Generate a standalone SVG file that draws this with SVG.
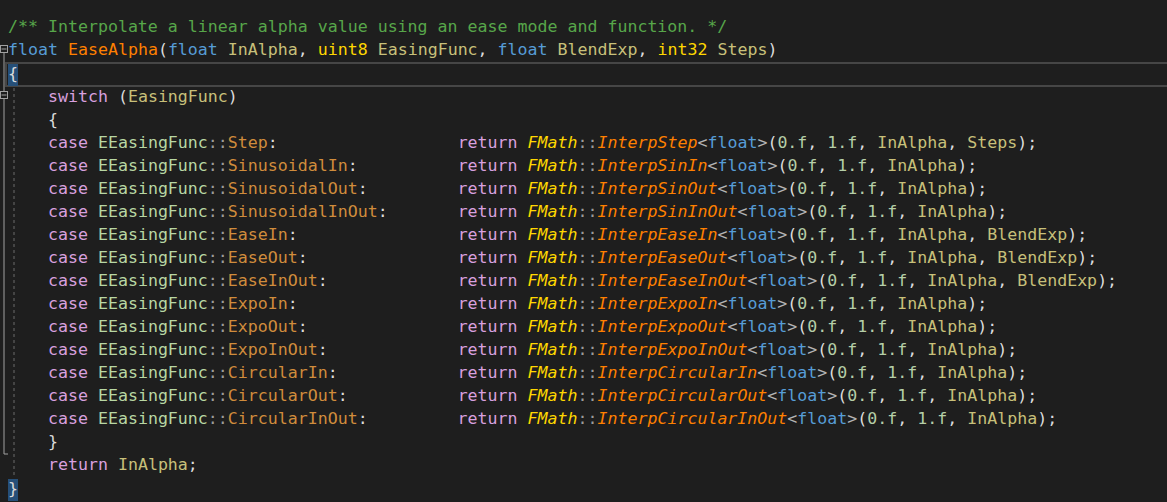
<svg xmlns="http://www.w3.org/2000/svg" width="1167" height="502" viewBox="0 0 1167 502">
<style>
text{font-family:"DejaVu Sans Mono","Liberation Mono",monospace;font-size:16.6px;white-space:pre;fill:#dcdcdc}
.c{fill:#57a64a}.k{fill:#569cd6}.f{fill:#ff8000}.p{fill:#c8c07a}.y{fill:#ffd700}.kw{fill:#d8a0df}.e{fill:#b8d7a3}.m{fill:#d08c3c}.fm{fill:#ffd700;font-style:italic}.fi{fill:#ff8000;font-style:italic}.g{fill:#b4b4b4}.n{fill:#b5cea8}.pu{fill:#9b9b9b}
</style>
<rect width="1167" height="502" fill="#1e1e1e"/>
<g id="gutter" fill="none" stroke="#a0a0a0" stroke-width="1">
<rect x="6" y="63" width="1170" height="23" stroke="#464646" stroke-width="2"/>
<rect x="0.5" y="45.5" width="7" height="7"/><line x1="1.5" y1="49" x2="6.5" y2="49"/>
<rect x="0.5" y="91.5" width="7" height="7"/><line x1="1.5" y1="95" x2="6.5" y2="95"/>
<line x1="4" y1="53" x2="4" y2="91"/><line x1="4" y1="99" x2="4" y2="454"/><line x1="4" y1="454" x2="8" y2="454"/>
<line x1="14" y1="88" x2="14" y2="476" stroke="#6a6a6a" stroke-dasharray="3,3"/>
<rect x="8" y="64" width="10" height="22" fill="#264f78" stroke="none"/>
<rect x="8" y="479" width="10" height="22" fill="#264f78" stroke="none"/>
</g>
<g id="code">
<text x="8" y="32" class="c">/** Interpolate a linear alpha value using an ease mode and function. */</text>
<text x="8" y="55"><tspan class="k">float</tspan> <tspan class="f">EaseAlpha</tspan>(<tspan class="k">float</tspan> <tspan class="p">InAlpha</tspan>, <tspan class="y">uint8</tspan> <tspan class="p">EasingFunc</tspan>, <tspan class="k">float</tspan> <tspan class="p">BlendExp</tspan>, <tspan class="y">int32</tspan> <tspan class="p">Steps</tspan>)</text>
<text x="8" y="79">{</text>
<text x="8" y="102">    <tspan class="kw">switch</tspan> (<tspan class="p">EasingFunc</tspan>)</text>
<text x="8" y="125">    {</text>
<text x="8" y="148">    <tspan class="kw">case</tspan> <tspan class="e">EEasingFunc</tspan><tspan class="pu">::</tspan><tspan class="m">Step</tspan>:                  <tspan class="kw">return</tspan> <tspan class="fm">FMath</tspan><tspan class="pu">::</tspan><tspan class="fi">InterpStep</tspan><tspan class="g">&lt;</tspan><tspan class="k">float</tspan><tspan class="g">&gt;</tspan>(<tspan class="n">0.f</tspan>, <tspan class="n">1.f</tspan>, <tspan class="p">InAlpha</tspan>, <tspan class="p">Steps</tspan>);</text>
<text x="8" y="171">    <tspan class="kw">case</tspan> <tspan class="e">EEasingFunc</tspan><tspan class="pu">::</tspan><tspan class="m">SinusoidalIn</tspan>:          <tspan class="kw">return</tspan> <tspan class="fm">FMath</tspan><tspan class="pu">::</tspan><tspan class="fi">InterpSinIn</tspan><tspan class="g">&lt;</tspan><tspan class="k">float</tspan><tspan class="g">&gt;</tspan>(<tspan class="n">0.f</tspan>, <tspan class="n">1.f</tspan>, <tspan class="p">InAlpha</tspan>);</text>
<text x="8" y="194">    <tspan class="kw">case</tspan> <tspan class="e">EEasingFunc</tspan><tspan class="pu">::</tspan><tspan class="m">SinusoidalOut</tspan>:         <tspan class="kw">return</tspan> <tspan class="fm">FMath</tspan><tspan class="pu">::</tspan><tspan class="fi">InterpSinOut</tspan><tspan class="g">&lt;</tspan><tspan class="k">float</tspan><tspan class="g">&gt;</tspan>(<tspan class="n">0.f</tspan>, <tspan class="n">1.f</tspan>, <tspan class="p">InAlpha</tspan>);</text>
<text x="8" y="217">    <tspan class="kw">case</tspan> <tspan class="e">EEasingFunc</tspan><tspan class="pu">::</tspan><tspan class="m">SinusoidalInOut</tspan>:       <tspan class="kw">return</tspan> <tspan class="fm">FMath</tspan><tspan class="pu">::</tspan><tspan class="fi">InterpSinInOut</tspan><tspan class="g">&lt;</tspan><tspan class="k">float</tspan><tspan class="g">&gt;</tspan>(<tspan class="n">0.f</tspan>, <tspan class="n">1.f</tspan>, <tspan class="p">InAlpha</tspan>);</text>
<text x="8" y="240">    <tspan class="kw">case</tspan> <tspan class="e">EEasingFunc</tspan><tspan class="pu">::</tspan><tspan class="m">EaseIn</tspan>:                <tspan class="kw">return</tspan> <tspan class="fm">FMath</tspan><tspan class="pu">::</tspan><tspan class="fi">InterpEaseIn</tspan><tspan class="g">&lt;</tspan><tspan class="k">float</tspan><tspan class="g">&gt;</tspan>(<tspan class="n">0.f</tspan>, <tspan class="n">1.f</tspan>, <tspan class="p">InAlpha</tspan>, <tspan class="p">BlendExp</tspan>);</text>
<text x="8" y="263">    <tspan class="kw">case</tspan> <tspan class="e">EEasingFunc</tspan><tspan class="pu">::</tspan><tspan class="m">EaseOut</tspan>:               <tspan class="kw">return</tspan> <tspan class="fm">FMath</tspan><tspan class="pu">::</tspan><tspan class="fi">InterpEaseOut</tspan><tspan class="g">&lt;</tspan><tspan class="k">float</tspan><tspan class="g">&gt;</tspan>(<tspan class="n">0.f</tspan>, <tspan class="n">1.f</tspan>, <tspan class="p">InAlpha</tspan>, <tspan class="p">BlendExp</tspan>);</text>
<text x="8" y="286">    <tspan class="kw">case</tspan> <tspan class="e">EEasingFunc</tspan><tspan class="pu">::</tspan><tspan class="m">EaseInOut</tspan>:             <tspan class="kw">return</tspan> <tspan class="fm">FMath</tspan><tspan class="pu">::</tspan><tspan class="fi">InterpEaseInOut</tspan><tspan class="g">&lt;</tspan><tspan class="k">float</tspan><tspan class="g">&gt;</tspan>(<tspan class="n">0.f</tspan>, <tspan class="n">1.f</tspan>, <tspan class="p">InAlpha</tspan>, <tspan class="p">BlendExp</tspan>);</text>
<text x="8" y="309">    <tspan class="kw">case</tspan> <tspan class="e">EEasingFunc</tspan><tspan class="pu">::</tspan><tspan class="m">ExpoIn</tspan>:                <tspan class="kw">return</tspan> <tspan class="fm">FMath</tspan><tspan class="pu">::</tspan><tspan class="fi">InterpExpoIn</tspan><tspan class="g">&lt;</tspan><tspan class="k">float</tspan><tspan class="g">&gt;</tspan>(<tspan class="n">0.f</tspan>, <tspan class="n">1.f</tspan>, <tspan class="p">InAlpha</tspan>);</text>
<text x="8" y="332">    <tspan class="kw">case</tspan> <tspan class="e">EEasingFunc</tspan><tspan class="pu">::</tspan><tspan class="m">ExpoOut</tspan>:               <tspan class="kw">return</tspan> <tspan class="fm">FMath</tspan><tspan class="pu">::</tspan><tspan class="fi">InterpExpoOut</tspan><tspan class="g">&lt;</tspan><tspan class="k">float</tspan><tspan class="g">&gt;</tspan>(<tspan class="n">0.f</tspan>, <tspan class="n">1.f</tspan>, <tspan class="p">InAlpha</tspan>);</text>
<text x="8" y="355">    <tspan class="kw">case</tspan> <tspan class="e">EEasingFunc</tspan><tspan class="pu">::</tspan><tspan class="m">ExpoInOut</tspan>:             <tspan class="kw">return</tspan> <tspan class="fm">FMath</tspan><tspan class="pu">::</tspan><tspan class="fi">InterpExpoInOut</tspan><tspan class="g">&lt;</tspan><tspan class="k">float</tspan><tspan class="g">&gt;</tspan>(<tspan class="n">0.f</tspan>, <tspan class="n">1.f</tspan>, <tspan class="p">InAlpha</tspan>);</text>
<text x="8" y="378">    <tspan class="kw">case</tspan> <tspan class="e">EEasingFunc</tspan><tspan class="pu">::</tspan><tspan class="m">CircularIn</tspan>:            <tspan class="kw">return</tspan> <tspan class="fm">FMath</tspan><tspan class="pu">::</tspan><tspan class="fi">InterpCircularIn</tspan><tspan class="g">&lt;</tspan><tspan class="k">float</tspan><tspan class="g">&gt;</tspan>(<tspan class="n">0.f</tspan>, <tspan class="n">1.f</tspan>, <tspan class="p">InAlpha</tspan>);</text>
<text x="8" y="401">    <tspan class="kw">case</tspan> <tspan class="e">EEasingFunc</tspan><tspan class="pu">::</tspan><tspan class="m">CircularOut</tspan>:           <tspan class="kw">return</tspan> <tspan class="fm">FMath</tspan><tspan class="pu">::</tspan><tspan class="fi">InterpCircularOut</tspan><tspan class="g">&lt;</tspan><tspan class="k">float</tspan><tspan class="g">&gt;</tspan>(<tspan class="n">0.f</tspan>, <tspan class="n">1.f</tspan>, <tspan class="p">InAlpha</tspan>);</text>
<text x="8" y="424">    <tspan class="kw">case</tspan> <tspan class="e">EEasingFunc</tspan><tspan class="pu">::</tspan><tspan class="m">CircularInOut</tspan>:         <tspan class="kw">return</tspan> <tspan class="fm">FMath</tspan><tspan class="pu">::</tspan><tspan class="fi">InterpCircularInOut</tspan><tspan class="g">&lt;</tspan><tspan class="k">float</tspan><tspan class="g">&gt;</tspan>(<tspan class="n">0.f</tspan>, <tspan class="n">1.f</tspan>, <tspan class="p">InAlpha</tspan>);</text>
<text x="8" y="447">    }</text>
<text x="8" y="470">    <tspan class="kw">return</tspan> <tspan class="p">InAlpha</tspan>;</text>
<text x="8" y="494">}</text>
</g>
</svg>
